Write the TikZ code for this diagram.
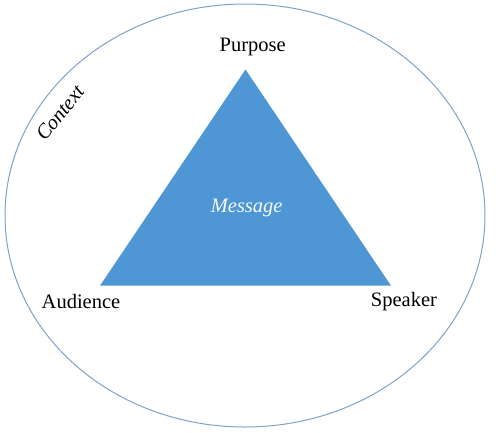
\documentclass[tikz,border=0pt]{standalone}
\usepackage{fontspec}
\setmainfont{Liberation Serif}
\definecolor{ringblue}{RGB}{127,163,200}
\definecolor{trifill}{RGB}{79,150,212}
\definecolor{msgwhite}{RGB}{245,250,255}
\tikzset{
  lbl/.style={inner sep=0pt, font=\fontsize{20.5}{24}\selectfont, text=black},
}
\begin{document}
\begin{tikzpicture}[x=1pt,y=-1pt]
\useasboundingbox (0,0) rectangle (504,432);
\fill[white] (0,0) rectangle (504,432);
\draw[ringblue, line width=1pt] (245,215.5) ellipse [x radius=240, y radius=211.5];
\coordinate (apex) at (245.5,69.5);
\coordinate (bl) at (100,285.7);
\coordinate (br) at (391,285.7);
\fill[trifill] (apex) -- (bl) -- (br) -- cycle;
\node[lbl] (purpose) at (252.7,47) {Purpose};
\node[lbl] (audience) at (81,301.5) {Audience};
\node[lbl] (speaker) at (404,301.5) {Speaker};
\node[lbl, text=msgwhite, font=\fontsize{20.5}{24}\selectfont\itshape] (message) at (246.7,207.5) {Message};
\node[lbl, rotate=51, font=\fontsize{20.5}{24}\selectfont\itshape] (context) at (60,113) {Context};
\end{tikzpicture}
\end{document}
